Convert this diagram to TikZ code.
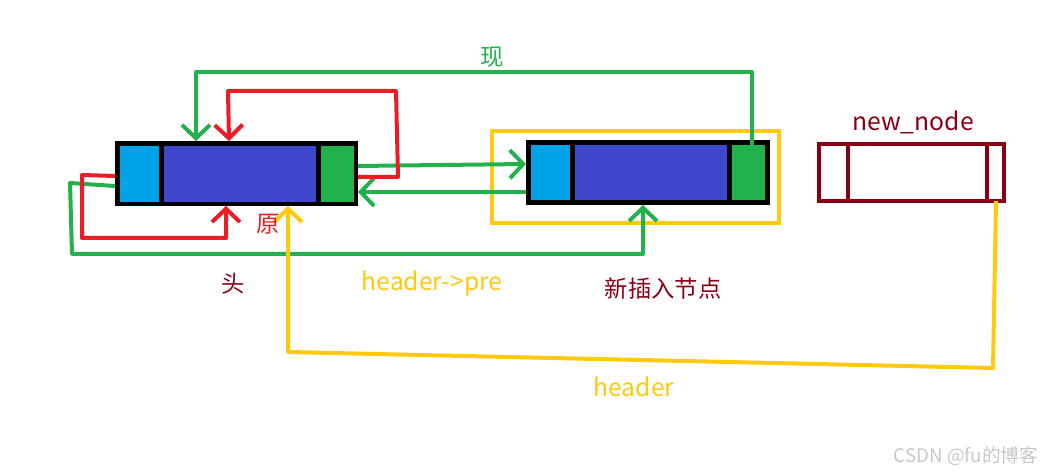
\documentclass[tikz,border=0pt]{standalone}
\usepackage{fontspec}
\setmainfont{Noto Sans CJK SC}
\usetikzlibrary{arrows.meta,fit}
\definecolor{pgreen}{HTML}{22B14C}
\definecolor{pred}{HTML}{ED1C24}
\definecolor{pyellow}{HTML}{FFC90E}
\definecolor{pcyan}{HTML}{00A2E8}
\definecolor{pblue}{HTML}{3F48CC}
\definecolor{pmaroon}{HTML}{880015}
\begin{document}
\begin{tikzpicture}[x=0.75pt,y=-0.75pt,
  box/.style={inner sep=0pt,outer sep=0pt},
  lab/.style={font=\fontsize{17.5}{17.5}\selectfont,inner sep=0pt},
  latin/.style={font=\fontsize{18.5}{18.5}\selectfont,inner sep=0pt},
  wire/.style={line width=3pt,line join=round},
  tip/.style={-{Straight Barb[length=10pt,width=21pt,line width=3pt]}}]

\useasboundingbox (0,0) rectangle (1044,473);

% head node
\node[box,fill=black,fit={(115,141) (358,206)}] (head) {};
\node[box,fill=pcyan,fit={(120,146) (159,202)}] (hPre) {};
\node[box,fill=pblue,fit={(164,146) (316,202)}] (hData) {};
\node[box,fill=pgreen,fit={(321,146) (354,202)}] (hNext) {};

% inserted node
\node[box,draw=pyellow,line width=3pt,fit={(492,131) (779,223)}] (bFrame) {};
\node[box,fill=black,fit={(526,140) (770,205)}] (bOut) {};
\node[box,fill=pcyan,fit={(531,145) (570,200)}] (bPre) {};
\node[box,fill=pblue,fit={(575,145) (727,200)}] (bData) {};
\node[box,fill=pgreen,fit={(732,145) (765,200)}] (bNext) {};

% new_node
\node[box,draw=pmaroon,line width=3pt,fit={(819,144) (1004,201)}] (nn) {};
\draw[pmaroon,line width=3pt] (848,0 |- nn.north) -- (848,0 |- nn.south);
\draw[pmaroon,line width=3pt] (987,0 |- nn.north) -- (987,0 |- nn.south);

% green
\draw[wire,pgreen,tip] (752,0 |- bNext.north) -- (752,72) -- (196,72) -- (196,0 |- head.north);
\draw[wire,pgreen,tip] (head.east |- 0,166) -- (bOut.west |- 0,164);
\draw[wire,pgreen,tip] (bOut.west |- 0,192) -- (head.east |- 0,192);
\draw[wire,pgreen,tip] (head.west |- 0,186) -- (70,183) -- (72,254) -- (643,254) -- (643,0 |- bOut.south);

% red
\draw[wire,pred,tip] (head.east |- 0,177) -- (398,177) -- (396,91) -- (228,91) -- (229,0 |- head.north);
\draw[wire,pred,tip] (head.west |- 0,176) -- (82,175) -- (82,238) -- (226,238) -- (226,0 |- head.south);

% yellow
\draw[wire,pyellow,tip] (996,0 |- nn.south) -- (993,368) -- (288,352) -- (288,0 |- head.south);

% labels
\node[lab,pgreen] (now) at (492,57) {现};
\node[lab,pred] (old) at (268,224) {原};
\node[lab,pmaroon] (headlab) at (233,284) {头};
\node[latin,pyellow] (prelab) at (432,284) {header->pre};
\node[lab,pmaroon] (inslab) at (663,289) {新插入节点};
\node[latin,pyellow] (hdrlab) at (634,387) {header};
\node[latin,pmaroon] (nnlab) at (913,122) {new\_node};
\node[inner sep=0pt,font=\fontsize{14}{14}\selectfont,black!22] (mark) at (966,456) {CSDN @fu的博客};
\end{tikzpicture}
\end{document}
